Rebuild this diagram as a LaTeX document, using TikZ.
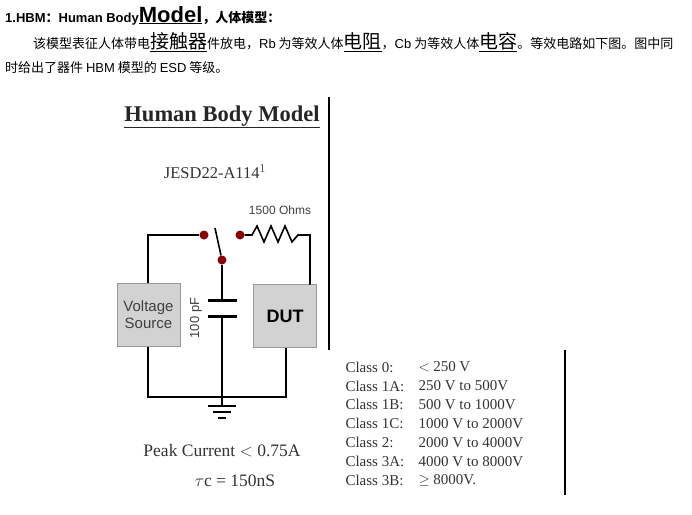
\documentclass[tikz,border=0pt]{standalone}
\usepackage{fontspec}
\setmainfont{Liberation Serif}
\newfontfamily\cjk{Noto Sans CJK SC}
\newfontfamily\arial{Liberation Sans}
\begin{document}
\begin{tikzpicture}[x=1pt,y=-1pt,
  wire/.style={line width=1.6pt,black},
  dotn/.style={circle,fill=red!55!black,inner sep=0pt,minimum size=9pt},
  grbox/.style={draw=gray!80,fill=gray!35,minimum width=63pt,minimum height=63pt,inner sep=0pt},
  cls/.style={anchor=west,font=\fontsize{15}{15}\selectfont,text=black!80}]
\useasboundingbox (0,0) rectangle (692,514);
% header text
\node[anchor=base west,inner sep=0pt] (h1) at (5,22) {\arial\bfseries\fontsize{13}{13}\selectfont 1.HBM{\cjk：}Human Body\underline{\fontsize{22}{22}\selectfont Model}{\cjk ，人体模型：}};
\node[anchor=base west,inner sep=0pt] (h2) at (33,48) {\fontsize{13}{14}\selectfont\cjk 该模型表征人体带电\underline{\fontsize{19}{19}\selectfont 接触器}件放电，{\arial Rb} 为等效人体\underline{\fontsize{19}{19}\selectfont 电阻}，{\arial Cb} 为等效人体\underline{\fontsize{19}{19}\selectfont 电容}。等效电路如下图。图中同};
\node[anchor=base west,inner sep=0pt] (h3) at (5,72) {\fontsize{13}{14}\selectfont\cjk 时给出了器件 {\arial HBM} 模型的 {\arial ESD} 等级。};
% figure
\node[font=\bfseries\fontsize{22.5}{22}\selectfont,text=black!85] (title) at (222,117) {\underline{Human Body Model}};
\node[font=\fontsize{16.5}{17}\selectfont,text=black!80] (jesd) at (215,172) {JESD22-A114$^{1}$};
\coordinate (v1t) at (329,97); \coordinate (v1b) at (329,350);
\draw[line width=1.6pt] (v1t) -- (v1b);
\coordinate (v2t) at (565,350); \coordinate (v2b) at (565,495);
\draw[line width=1.6pt] (v2t) -- (v2b);
% circuit
\node[grbox,font=\arial\fontsize{15}{17}\selectfont,text=black!75,align=center] (vs) at (148.5,315) {Voltage\\Source};
\node[grbox,font=\arial\bfseries\fontsize{18}{18}\selectfont] (dut) at (285,316) {DUT};
\node[dotn] (d1) at (204,235) {};
\node[dotn] (d2) at (240,235) {};
\node[dotn] (d3) at (222,260) {};
\coordinate (r1) at (252,235); \coordinate (r2) at (298,235);
\coordinate (sw) at (215,228);
\draw[wire] (vs.north -| 148,0) -- (148,235) -- (d1);
\draw[wire] (d3) -- (sw);
\draw[wire] (d2) -- (r1) -- ++(5,-9) -- ++(7,16) -- ++(7,-16) -- ++(7,16) -- ++(7,-16) -- ++(7,16) -- (r2) -- (310,235) -- (310,284.5);
\node[font=\arial\fontsize{12}{12}\selectfont,text=black!75] (rl) at (280,210) {1500 Ohms};
\coordinate (c1) at (222,300); \coordinate (c2) at (222,316);
\draw[wire] (d3) -- (c1);
\draw[line width=3pt] (208,300) -- (237,300);
\draw[line width=3pt] (208,316) -- (237,316);
\coordinate (g) at (222,397);
\draw[wire] (c2) -- (g);
\draw[wire] (148,346.5) -- (148,397) -- (286,397) -- (286,347.5);
\draw[line width=1.2pt] (g) -- (222,406);
\draw[line width=1.2pt] (208,406) -- (236,406) (213,412) -- (231,412) (218,418) -- (226,418);
\node[rotate=90,font=\arial\fontsize{13}{13}\selectfont,text=black!75] (cap) at (196,318) {100 pF};
\node[font=\fontsize{17.5}{18}\selectfont,text=black!80] (pk) at (222,451) {Peak Current $<$ 0.75A};
\node[font=\fontsize{17.5}{18}\selectfont,text=black!80] (tc) at (235,481) {$\tau$c = 150nS};
% class table
\foreach \i/\a/\b in {0/Class 0:/{$<$ 250 V},1/Class 1A:/250 V to 500V,2/Class 1B:/500 V to 1000V,3/Class 1C:/1000 V to 2000V,4/Class 2:/2000 V to 4000V,5/Class 3A:/4000 V to 8000V,6/Class 3B:/{$\geq$ 8000V.}}{
  \node[cls] (ca\i) at (342,367+18.9*\i) {\a};
  \node[cls] (cb\i) at (415,367+18.9*\i) {\b};
}
\end{tikzpicture}
\end{document}
